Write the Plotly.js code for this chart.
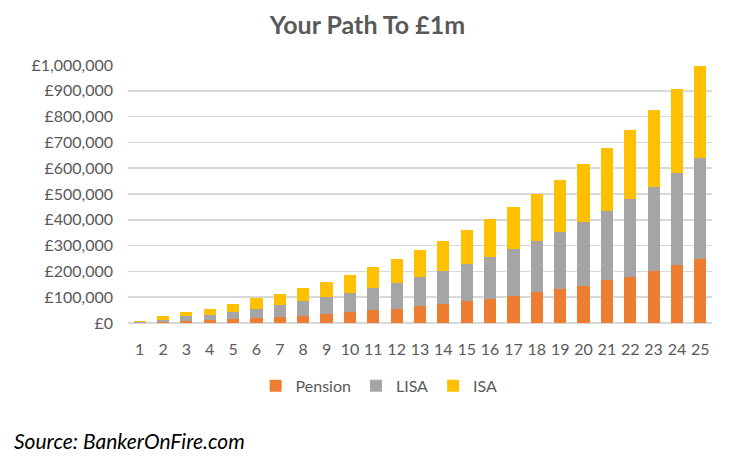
<!DOCTYPE html>
<html>
<head>
<meta charset="utf-8">
<script src="https://cdn.plot.ly/plotly-3.0.1.min.js"></script>
<style>
  body { margin: 0; background: #fff; }
  #chart { width: 735px; height: 460px; }
</style>
</head>
<body>
<div id="chart"></div>
<script>
// years 1..25, values in £
const years = ['1','2','3','4','5','6','7','8','9','10','11','12','13','14','15','16','17','18','19','20','21','22','23','24','25'];

const pension = [1000, 4000, 6000, 10000, 14000, 18000, 23000, 29000, 35000, 42000, 49000, 55000, 64000,
  72000, 84000, 93000, 103000, 120000, 130000, 145000, 165000, 179000, 200000, 223000, 248000];

const lisa = [3000, 9000, 20000, 22000, 30000, 38000, 47000, 58000, 66000, 76000, 88000, 101000, 114000,
  131000, 146000, 162000, 185000, 199000, 224000, 247000, 269000, 302000, 329000, 358000, 392000];

const isa = [4000, 13000, 15000, 24000, 30000, 40000, 43000, 50000, 58000, 68000, 80000, 91000, 106000,
  116000, 131000, 149000, 162000, 182000, 201000, 225000, 245000, 267000, 297000, 326000, 357000];

const txt = '#595959';
const fnt = 'Lato, "Open Sans", sans-serif';

function bar(name, vals, color) {
  return {
    type: 'bar',
    name: name,
    x: years,
    y: vals,
    marker: {color: color},
    hoverinfo: 'none'
  };
}

var data = [
  bar('Pension', pension, '#ED7D31'),
  bar('LISA', lisa, '#A5A5A5'),
  bar('ISA', isa, '#FFC000')
];

var layout = {
  width: 735,
  height: 460,
  barmode: 'stack',
  bargap: 0.48,
  paper_bgcolor: '#fff',
  plot_bgcolor: '#fff',
  font: {family: fnt, color: txt, size: 16},
  margin: {l: 128, r: 23, t: 65, b: 137},
  title: {
    text: '<b>Your Path To £1m</b>',
    font: {family: fnt, size: 25, color: txt},
    x: 0.5, xanchor: 'center',
    y: 0.946, yanchor: 'middle', yref: 'container'
  },
  xaxis: {
    type: 'category',
    showgrid: false,
    showline: false,
    ticks: '',
    ticklabelstandoff: 15,
    tickfont: {size: 16, color: txt}
  },
  yaxis: {
    range: [0, 1000000],
    dtick: 100000,
    tickprefix: '£',
    tickformat: ',d',
    gridcolor: '#D9D9D9',
    gridwidth: 1.5,
    zeroline: true,
    zerolinecolor: '#D9D9D9',
    zerolinewidth: 1.5,
    showline: false,
    ticks: '',
    ticklabelstandoff: 14,
    tickfont: {size: 16, color: txt}
  },
  legend: {
    orientation: 'h',
    x: 0.43, xanchor: 'center',
    y: -0.244, yanchor: 'middle',
    traceorder: 'normal',
    font: {size: 16, color: txt},
    itemwidth: 30
  },
  annotations: [{
    text: '<i>Source: BankerOnFire.com</i>',
    xref: 'paper', yref: 'paper',
    x: -0.199, xanchor: 'left',
    y: -0.457, yanchor: 'middle',
    showarrow: false,
    font: {family: fnt, size: 21, color: '#000'}
  }]
};

Plotly.newPlot('chart', data, layout, {displayModeBar: false, staticPlot: true});
</script>
</body>
</html>
